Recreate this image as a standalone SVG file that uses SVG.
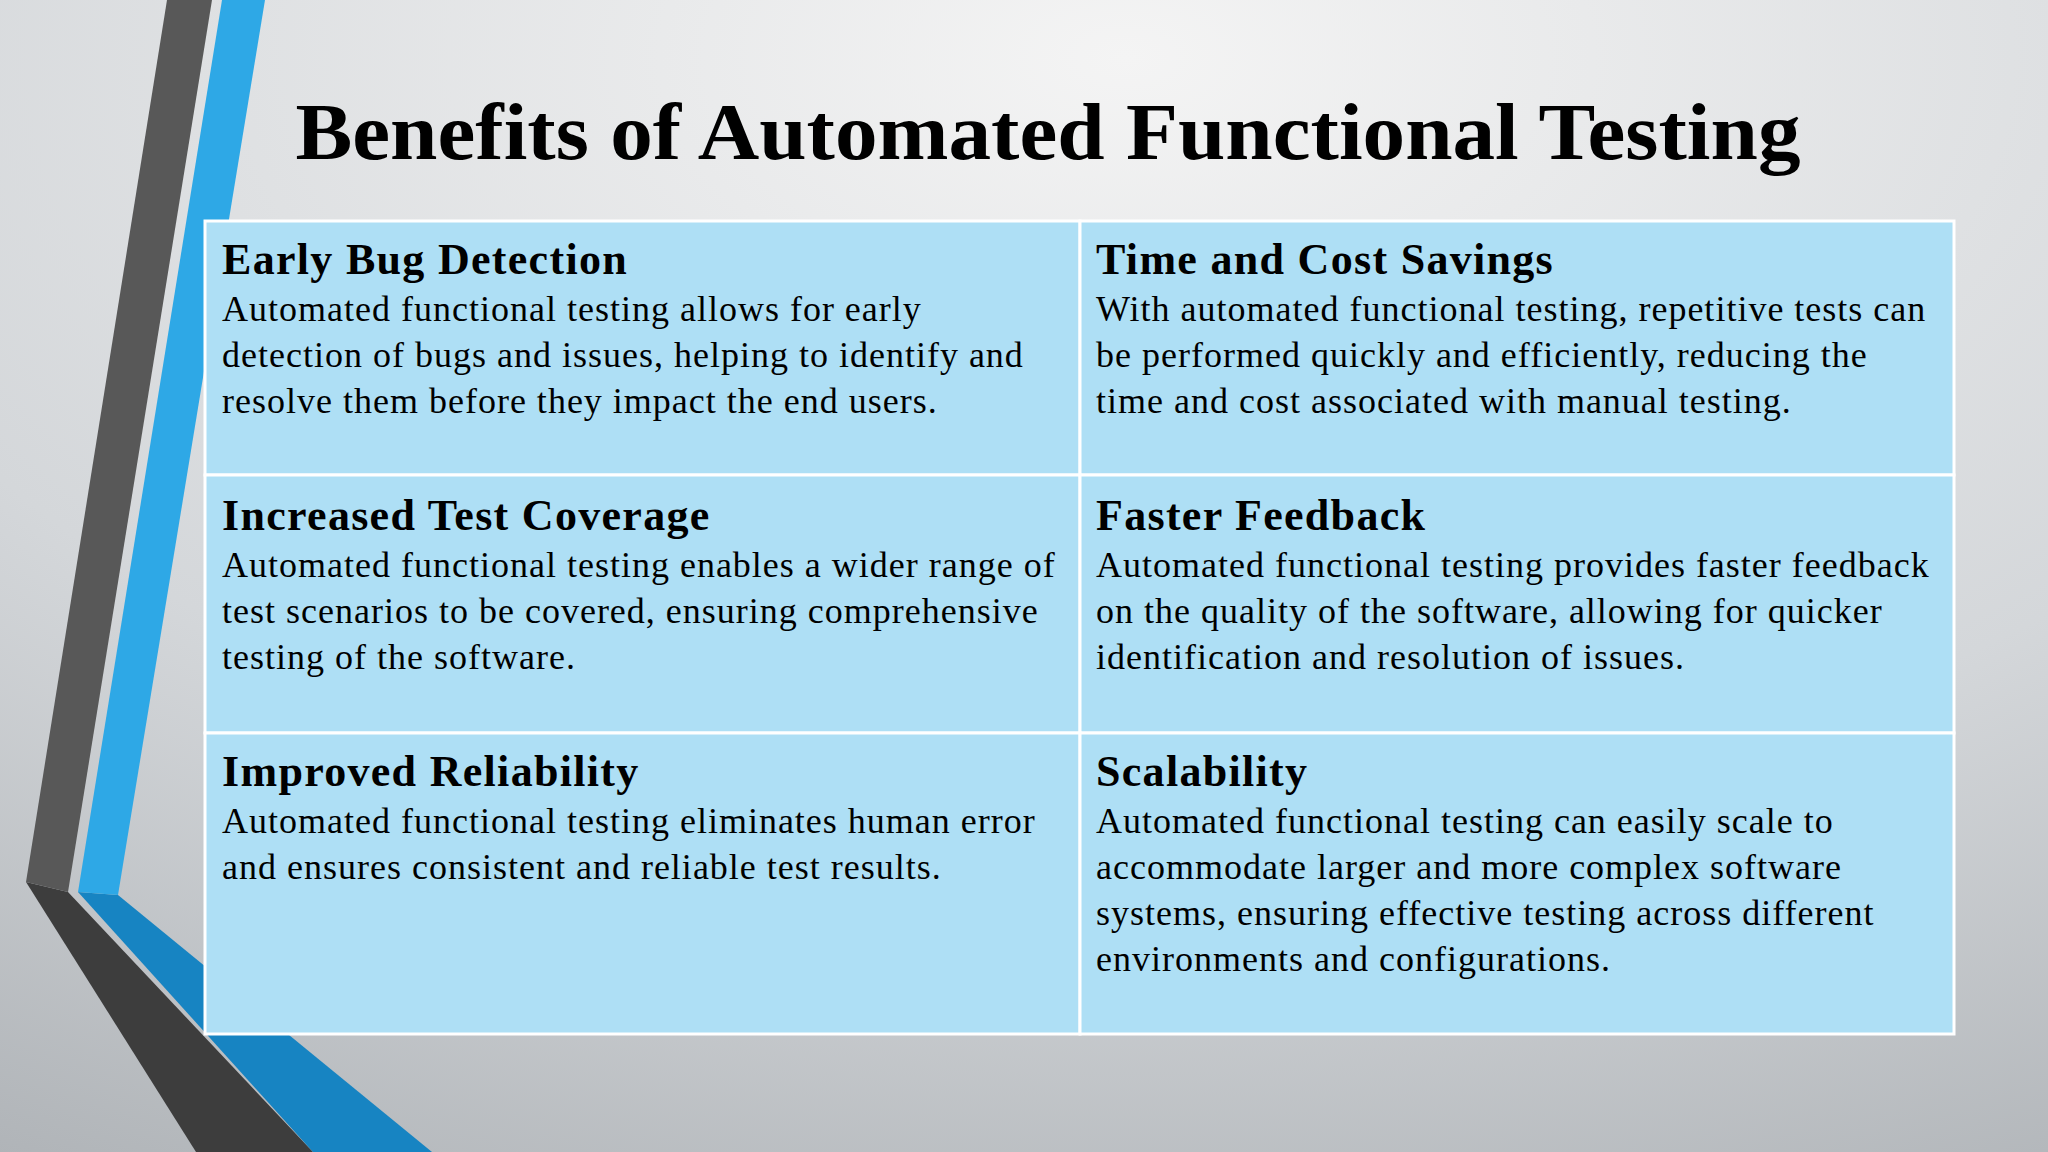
<svg xmlns="http://www.w3.org/2000/svg" width="2048" height="1152" viewBox="0 0 2048 1152">
<defs>
<radialGradient id="bg" cx="0.55" cy="0.05" r="1.1">
<stop offset="0" stop-color="#f4f4f4"/><stop offset="0.6" stop-color="#d4d7da"/><stop offset="1" stop-color="#b0b4b8"/>
</radialGradient>
<style>
.h{font-family:"Liberation Serif",serif;font-weight:bold;font-size:44px;letter-spacing:1.3px;fill:#000}
.b{font-family:"Liberation Serif",serif;font-size:36px;letter-spacing:1px;fill:#000}
.cell{fill:#aedff5;stroke:#fff;stroke-width:3}
</style>
</defs>
<rect width="2048" height="1152" fill="url(#bg)"/>
<g id="decor">
<polygon points="313,1152 196,1152 26,882 68,892" fill="#3d3d3d"/>
<polygon points="167,0 212,0 68,892 26,882" fill="#585858"/>
<polygon points="432,1152 313,1152 78,892 118,895" fill="#1784c2"/>
<polygon points="222,0 265,0 118,895 78,892" fill="#2ea8e6"/>
</g>
<text x="1048" y="159" text-anchor="middle" font-family="Liberation Serif,serif" font-weight="bold" font-size="80" textLength="1505" lengthAdjust="spacingAndGlyphs">Benefits of Automated Functional Testing</text>
<g id="cell1"><rect class="cell" x="205" y="221" width="875" height="254"/>
<text class="h" x="222" y="274">Early Bug Detection</text>
<text class="b" x="222" y="321">Automated functional testing allows for early</text>
<text class="b" x="222" y="367">detection of bugs and issues, helping to identify and</text>
<text class="b" x="222" y="413">resolve them before they impact the end users.</text></g>
<g id="cell2"><rect class="cell" x="1080" y="221" width="874" height="254"/>
<text class="h" x="1096" y="274">Time and Cost Savings</text>
<text class="b" x="1096" y="321">With automated functional testing, repetitive tests can</text>
<text class="b" x="1096" y="367">be performed quickly and efficiently, reducing the</text>
<text class="b" x="1096" y="413">time and cost associated with manual testing.</text></g>
<g id="cell3"><rect class="cell" x="205" y="475" width="875" height="258"/>
<text class="h" x="222" y="530">Increased Test Coverage</text>
<text class="b" x="222" y="577">Automated functional testing enables a wider range of</text>
<text class="b" x="222" y="623">test scenarios to be covered, ensuring comprehensive</text>
<text class="b" x="222" y="669">testing of the software.</text></g>
<g id="cell4"><rect class="cell" x="1080" y="475" width="874" height="258"/>
<text class="h" x="1096" y="530">Faster Feedback</text>
<text class="b" x="1096" y="577">Automated functional testing provides faster feedback</text>
<text class="b" x="1096" y="623">on the quality of the software, allowing for quicker</text>
<text class="b" x="1096" y="669">identification and resolution of issues.</text></g>
<g id="cell5"><rect class="cell" x="205" y="733" width="875" height="301"/>
<text class="h" x="222" y="786">Improved Reliability</text>
<text class="b" x="222" y="833">Automated functional testing eliminates human error</text>
<text class="b" x="222" y="879">and ensures consistent and reliable test results.</text></g>
<g id="cell6"><rect class="cell" x="1080" y="733" width="874" height="301"/>
<text class="h" x="1096" y="786">Scalability</text>
<text class="b" x="1096" y="833">Automated functional testing can easily scale to</text>
<text class="b" x="1096" y="879">accommodate larger and more complex software</text>
<text class="b" x="1096" y="925">systems, ensuring effective testing across different</text>
<text class="b" x="1096" y="971">environments and configurations.</text></g>
<g id="connectors"/>
</svg>
